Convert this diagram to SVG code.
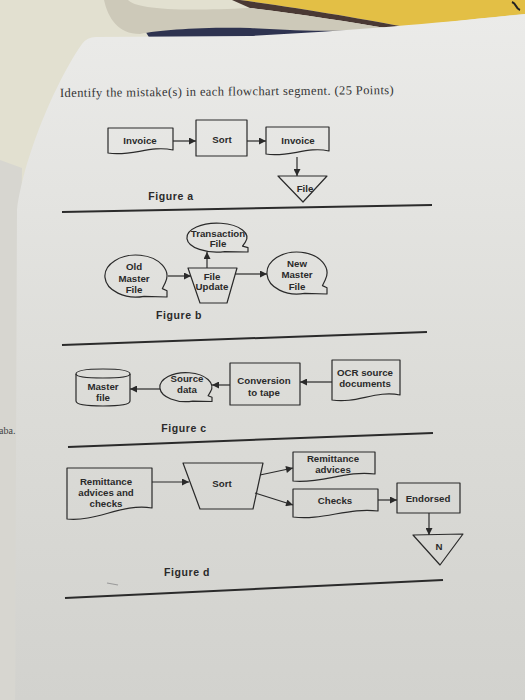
<svg xmlns="http://www.w3.org/2000/svg" width="525" height="700" viewBox="0 0 525 700">
  <defs>
    <linearGradient id="pageGrad" x1="0" y1="0" x2="0" y2="1">
      <stop offset="0" stop-color="#ebebe9"/>
      <stop offset="0.55" stop-color="#dcdcd8"/>
      <stop offset="1" stop-color="#d2d2ce"/>
    </linearGradient>
    <marker id="arrow" viewBox="0 0 10 10" refX="10" refY="5" markerWidth="8" markerHeight="7" markerUnits="userSpaceOnUse" orient="auto">
      <path d="M0,0 L10,5 L0,10 Z" fill="#2a2a2a"/>
    </marker>
    <style>
      .shape { fill: none; stroke: #2a2a2a; stroke-width: 1.2; stroke-linejoin: round; }
      .conn { fill: none; stroke: #2a2a2a; stroke-width: 1.2; marker-end: url(#arrow); }
      .lbl { font-family: "Liberation Sans", Arial, sans-serif; font-weight: bold; font-size: 9.7px; fill: #2a2a2a; text-anchor: middle; }
      .fig { font-family: "Liberation Sans", Arial, sans-serif; font-weight: bold; font-size: 10.5px; letter-spacing: 0.6px; fill: #2a2a2a; text-anchor: middle; }
      .sep { stroke: #2b2b2b; stroke-width: 2; fill: none; }
    </style>
  </defs>

  <!-- photo background -->
  <g id="background">
    <rect x="0" y="0" width="525" height="700" fill="#e2e0d0"/>
    <path d="M228,0 L525,0 L525,14 C470,19 430,24 405,27 C370,20 300,8 240,0 Z" fill="#e3bf45"/>
    <path d="M240,0 C300,8 370,20 405,27 L392,29 C350,22 300,14 250,8 L232,0 Z" fill="#4a3934"/>
    <path d="M135,14 C200,20 280,24 345,28 L348,38 L150,39 Z" fill="#2e3350"/>
    <path d="M104,0 L128,0 C135,8 170,12 250,8 C300,14 350,22 392,29 C350,32 300,31 250,28 C200,27 160,30 140,34 C118,34 108,18 104,0 Z" fill="#cdc9b9"/>
    <path d="M512,2 C517,4 515,8 520,10" fill="none" stroke="#222" stroke-width="2"/>
    <path d="M0,160 L22,168 L15,700 L0,700 Z" fill="#d7d6d0"/>
    <text x="-1" y="434" font-family="Liberation Serif, serif" font-size="10" fill="#444">aba.</text>
    <path d="M15,700 L17,210 C25,150 60,75 82,44 Q87,37 96,37 L250,36 C350,31 450,22 525,14 L525,700 Z" fill="url(#pageGrad)"/>
  </g>

  <g id="title">
    <text x="60" y="97" transform="rotate(-0.5 60 97)" font-family="Liberation Serif, serif" font-size="12.5" letter-spacing="0.4" fill="#333">Identify the mistake(s) in each flowchart segment. (25 Points)</text>
  </g>

  <!-- Figure a -->
  <g id="a-invoice1">
    <path class="shape" d="M108,128 H173 V150 C150,145 131,157 108,153 Z"/>
    <text class="lbl" x="140" y="143.5">Invoice</text>
  </g>
  <g id="a-sort">
    <rect class="shape" x="196" y="120" width="51" height="36"/>
    <text class="lbl" x="222" y="142.5">Sort</text>
  </g>
  <g id="a-invoice2">
    <path class="shape" d="M266,127 H329 V151 C307,146 288,158 266,154 Z"/>
    <text class="lbl" x="298" y="143.5">Invoice</text>
  </g>
  <g id="a-file">
    <path class="shape" d="M278,176 L327,176 L303,202 Z"/>
    <text class="lbl" x="305" y="192">File</text>
  </g>
  <g id="a-caption">
    <text class="fig" x="171" y="200">Figure a</text>
  </g>

  <!-- Figure b -->
  <g id="b-transaction">
    <path class="shape" d="M245.2,242.4 A30,14.5 0 1 0 224.8,251.6 L248,252 L248,247.6 L242.5,246.2 Z"/>
    <text class="lbl" x="218" y="236.5">Transaction</text>
    <text class="lbl" x="218" y="247">File</text>
  </g>
  <g id="b-oldmaster">
    <path class="shape" d="M165.1,283.1 A31,21 0 1 0 144.1,296.3 L167,297 L167,290.7 L162.4,288.6 Z"/>
    <text class="lbl" x="134" y="270">Old</text>
    <text class="lbl" x="134" y="281.5">Master</text>
    <text class="lbl" x="134" y="293">File</text>
  </g>
  <g id="b-update">
    <path class="shape" d="M188,268 L237,268 L227,303 L200,303 Z"/>
    <text class="lbl" x="212" y="279.5">File</text>
    <text class="lbl" x="212" y="290">Update</text>
  </g>
  <g id="b-newmaster">
    <path class="shape" d="M325.2,280.1 A30,21 0 1 0 304.8,293.3 L327,294 L327,287.7 L322.5,285.6 Z"/>
    <text class="lbl" x="297" y="266.5">New</text>
    <text class="lbl" x="297" y="278">Master</text>
    <text class="lbl" x="297" y="289.5">File</text>
  </g>
  <g id="b-caption">
    <text class="fig" x="179" y="319">Figure b</text>
  </g>

  <!-- Figure c -->
  <g id="c-masterfile">
    <path class="shape" d="M76,374 Q76,369 103,369 Q130,369 130,374 V401 Q130,406 103,406 Q76,406 76,401 Z"/>
    <path class="shape" d="M76,374 Q76,378 103,378 Q130,378 130,374"/>
    <text class="lbl" x="103" y="390">Master</text>
    <text class="lbl" x="103" y="400.5">file</text>
  </g>
  <g id="c-sourcedata">
    <path class="shape" d="M210.4,391.9 A26,14.5 0 1 0 192.8,401.1 L212,401.5 L212,397.2 L208.1,395.7 Z"/>
    <text class="lbl" x="187" y="382">Source</text>
    <text class="lbl" x="187" y="393">data</text>
  </g>
  <g id="c-conversion">
    <rect class="shape" x="230" y="363" width="70" height="42"/>
    <text class="lbl" x="264" y="384">Conversion</text>
    <text class="lbl" x="264" y="396">to tape</text>
  </g>
  <g id="c-ocr">
    <path class="shape" d="M332,360 H400 V395 C376,390 356,404 332,400 Z"/>
    <text class="lbl" x="365" y="376">OCR source</text>
    <text class="lbl" x="365" y="387">documents</text>
  </g>
  <g id="c-caption">
    <text class="fig" x="184" y="432">Figure c</text>
  </g>

  <!-- Figure d -->
  <g id="d-remit-checks">
    <path class="shape" d="M67,468 H152 V508 C122,503 97,522 67,519 Z"/>
    <text class="lbl" x="106" y="485">Remittance</text>
    <text class="lbl" x="106" y="496">advices and</text>
    <text class="lbl" x="106" y="507">checks</text>
  </g>
  <g id="d-sort">
    <path class="shape" d="M183,463 L263,463 L253,509 L200,509 Z"/>
    <text class="lbl" x="222" y="487">Sort</text>
  </g>
  <g id="d-remit">
    <path class="shape" d="M293,452 H375 V474 C346,470 322,484 293,481 Z"/>
    <text class="lbl" x="333" y="462">Remittance</text>
    <text class="lbl" x="333" y="472.5">advices</text>
  </g>
  <g id="d-checks">
    <path class="shape" d="M293,489 H378 V511 C349,507 322,521 293,517 Z"/>
    <text class="lbl" x="335" y="504">Checks</text>
  </g>
  <g id="d-endorsed">
    <rect class="shape" x="397" y="483" width="63" height="30"/>
    <text class="lbl" x="428" y="502">Endorsed</text>
  </g>
  <g id="d-n">
    <path class="shape" d="M413,535 L463,534 L440,565 Z"/>
    <text class="lbl" x="439" y="549.5">N</text>
  </g>
  <g id="d-caption">
    <text class="fig" x="187" y="576">Figure d</text>
    <path d="M107,583 L118,585" stroke="#9a9a9a" stroke-width="1.2"/>
  </g>

  <!-- separators -->
  <g id="separators">
    <line class="sep" x1="62" y1="212" x2="432" y2="205"/>
    <line class="sep" x1="62" y1="345" x2="427" y2="332"/>
    <line class="sep" x1="68" y1="447" x2="433" y2="433"/>
    <line class="sep" x1="65" y1="598" x2="443" y2="580"/>
  </g>

  <!-- connectors -->
  <g id="connectors">
    <line class="conn" x1="173" y1="141" x2="196" y2="141"/>
    <line class="conn" x1="247" y1="141" x2="266" y2="141"/>
    <line class="conn" x1="297" y1="157" x2="297" y2="176"/>
    <line class="conn" x1="207" y1="268" x2="207" y2="252"/>
    <line class="conn" x1="168" y1="276" x2="191" y2="276"/>
    <line class="conn" x1="235" y1="274" x2="267" y2="274"/>
    <line class="conn" x1="160" y1="389" x2="130" y2="389"/>
    <line class="conn" x1="230" y1="385" x2="212" y2="385"/>
    <line class="conn" x1="332" y1="382" x2="300" y2="382"/>
    <line class="conn" x1="152" y1="482" x2="189" y2="482"/>
    <line class="conn" x1="260" y1="475" x2="293" y2="468"/>
    <line class="conn" x1="255" y1="493" x2="293" y2="505"/>
    <line class="conn" x1="378" y1="500" x2="397" y2="500"/>
    <line class="conn" x1="429" y1="513" x2="429" y2="535"/>
  </g>
</svg>
